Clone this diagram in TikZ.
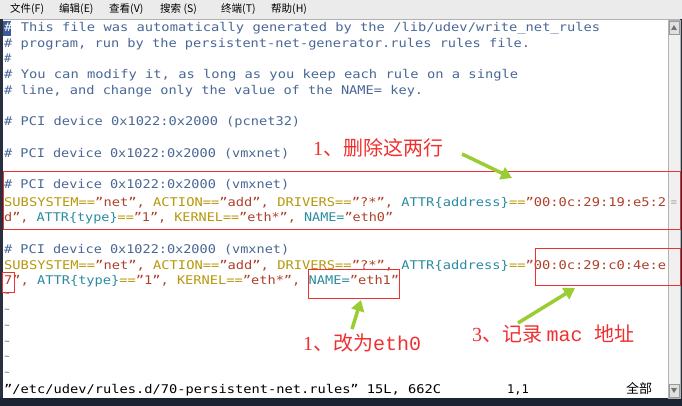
\documentclass[tikz,border=0pt]{standalone}
\usepackage{fontspec}
\usepackage{graphicx}
\usetikzlibrary{arrows.meta}
\setmonofont{DejaVu Sans Mono}
\newfontfamily\cjk{Noto Sans CJK SC}
\newfontfamily\lserif{Liberation Serif}
\newfontfamily\lmono{Liberation Mono}
\definecolor{cm}{HTML}{4A6896}
\definecolor{ky}{HTML}{B8980C}
\definecolor{at}{HTML}{2A8CA0}
\definecolor{st}{HTML}{B0402A}
\definecolor{anno}{HTML}{F03030}
\definecolor{grn}{HTML}{9ACD32}
\definecolor{navy}{HTML}{1C2433}
\definecolor{edge}{HTML}{283040}
\definecolor{curs}{HTML}{3C5A96}
\newcommand\tline[4]{\node[anchor=base west,inner sep=0] (#1) at (4,#2) {\resizebox{#3pt}{\height}{\ttfamily\fontsize{12}{12}\selectfont #4}};}
\tikzset{rbox/.style={draw=anno,line width=0.8pt},
 garrow/.style={grn,line width=3.5pt,-{Triangle[length=11pt,width=13pt]}},
 annot/.style={text=anno,inner sep=0,font=\fontsize{20}{20}\selectfont}}
\begin{document}
\begin{tikzpicture}[x=1pt,y=-1pt]
\useasboundingbox (0,0) rectangle (682,406);
\fill[white] (0,0) rectangle (682,406);
\fill[black!8] (0,0) rectangle (682,19);
\draw[black!30] (0,19.5)--(682,19.5);
\fill[navy] (0,398) rectangle (682,406);
\fill[edge] (0,19) rectangle (2.5,398);
\fill[edge] (680,19) rectangle (682,398);
% scrollbar
\fill[black!6] (668,20) rectangle (680,398);
\draw[black!30] (668,20) rectangle (680,398);
\draw[black!40,fill=black!12] (669,21) rectangle (679,34);
\draw[black!40,fill=black!12] (669,384) rectangle (679,397);
\fill[black!55] (671,30) -- (674,25) -- (677,30) -- cycle;
\fill[black!55] (671,388) -- (674,393) -- (677,388) -- cycle;
\node[inner sep=0,font=\fontsize{8}{8}\selectfont,text=black!55] (thumb) at (674,203) {$\equiv$};
% menu
\foreach \n/\x/\t in {m1/10/文件(F),m2/59/编辑(E),m3/109/查看(V),m4/160/搜索 (S),m5/221/终端(T),m6/271/帮助(H)}
  \node[anchor=west,inner sep=0,font=\cjk\fontsize{10.5}{10.5}\selectfont] (\n) at (\x,9) {\t};
% cursor
\fill[curs] (3,21) rectangle (11,36);
% text lines
\tline{l1}{32}{596}{\color{cm}\textcolor{white}{\#} This file was automatically generated by the /lib/udev/write\_net\_rules}
\tline{l2}{48}{526}{\color{cm}\# program, run by the persistent-net-generator.rules rules file.}
\node[anchor=base west,inner sep=0,font=\ttfamily\fontsize{12}{12}\selectfont,text=cm] (l3) at (4,63) {\#};
\tline{l4}{79}{514}{\color{cm}\# You can modify it, as long as you keep each rule on a single}
\tline{l5}{95}{419}{\color{cm}\# line, and change only the value of the NAME= key.}
\tline{l7}{126}{296}{\color{cm}\# PCI device 0x1022:0x2000 (pcnet32)}
\tline{l9}{158}{285}{\color{cm}\# PCI device 0x1022:0x2000 (vmxnet)}
\tline{l11}{189}{285}{\color{cm}\# PCI device 0x1022:0x2000 (vmxnet)}
\tline{l12}{206}{662}{\color{ky}SUBSYSTEM==\color{st}”net”, \color{ky}ACTION==\color{st}”add”, \color{ky}DRIVERS==\color{st}”?*”, \color{at}ATTR\{address\}\color{ky}==\color{st}”00:0c:29:19:e5:2}
\tline{l13}{221}{389}{\color{st}d”, \color{at}ATTR\{type\}\color{ky}==\color{st}”1”, \color{ky}KERNEL==\color{st}”eth*”, \color{at}NAME=\color{st}”eth0”}
\tline{l15}{253}{285}{\color{cm}\# PCI device 0x1022:0x2000 (vmxnet)}
\tline{l16}{269}{662}{\color{ky}SUBSYSTEM==\color{st}”net”, \color{ky}ACTION==\color{st}”add”, \color{ky}DRIVERS==\color{st}”?*”, \color{at}ATTR\{address\}\color{ky}==\color{st}”00:0c:29:c0:4e:e}
\tline{l17}{284}{395}{\color{st}7”, \color{at}ATTR\{type\}\color{ky}==\color{st}”1”, \color{ky}KERNEL==\color{st}”eth*”, \color{at}NAME=\color{st}”eth1”}
\foreach \y [count=\i] in {295,311,327,343,358,374}
  \node[inner sep=0,text=cm,font=\ttfamily\fontsize{9}{9}\selectfont] (t\i) at (7,\y) {\textasciitilde};
\tline{st}{393}{437}{”/etc/udev/rules.d/70-persistent-net.rules” 15L, 662C}
\node[anchor=base west,inner sep=0,font=\ttfamily\fontsize{12}{12}\selectfont] (pos) at (507,393) {1,1};
\node[anchor=base west,inner sep=0,font=\cjk\fontsize{13}{13}\selectfont] (all) at (626,393) {全部};
% red boxes
\draw[rbox] (3,171) rectangle (680,229);
\draw[rbox] (535,248) rectangle (680,285);
\draw[rbox] (2,272) rectangle (14,292);
\draw[rbox] (308,269) rectangle (399,298);
% annotations
\node[annot,anchor=west] (a1) at (313,148) {\lserif 1\cjk 、删除这两行};
\node[annot,anchor=west] (a2) at (303,343) {\lserif 1\cjk 、改为\lmono eth0};
\node[annot,anchor=west] (a3) at (472,334) {\lserif 3\cjk 、记录 \lmono mac \cjk 地址};
\coordinate (a1e) at (462,154);
\coordinate (a1t) at (512,178);
\coordinate (a2s) at (352,329);
\coordinate (a2t) at (361,300);
\coordinate (a3s) at (518,323);
\coordinate (a3t) at (575,288);
\draw[garrow] (a1e) -- (a1t);
\draw[garrow] (a2s) -- (a2t);
\draw[garrow] (a3s) -- (a3t);
\end{tikzpicture}
\end{document}
